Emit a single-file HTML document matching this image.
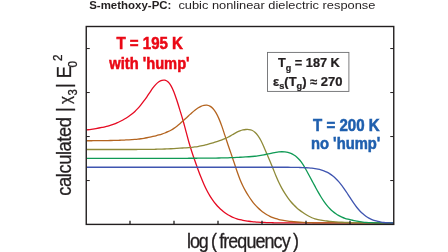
<!DOCTYPE html>
<html><head><meta charset="utf-8"><title>S-methoxy-PC: cubic nonlinear dielectric response</title>
<style>html,body{margin:0;padding:0;background:#fff;overflow:hidden}svg{display:block}</style></head>
<body>
<svg width="448" height="252" viewBox="0 0 448 252">
<rect width="448" height="252" fill="#fff"/>
<g fill="none" stroke-width="1.3" stroke-linecap="butt" stroke-linejoin="round">
<path stroke="#e60a22" d="M86.90,129.86 C87.40,129.80 88.90,129.66 89.90,129.53 C90.90,129.40 91.90,129.24 92.90,129.08 C93.90,128.91 94.90,128.74 95.90,128.56 C96.90,128.38 97.90,128.20 98.90,128.01 C99.90,127.82 100.90,127.63 101.90,127.43 C102.90,127.22 103.90,127.02 104.90,126.79 C105.90,126.56 106.90,126.32 107.90,126.05 C108.90,125.77 109.90,125.48 110.90,125.16 C111.90,124.83 112.90,124.48 113.90,124.10 C114.90,123.71 115.90,123.30 116.90,122.87 C117.90,122.43 118.90,121.97 119.90,121.49 C120.90,121.01 121.90,120.50 122.90,119.96 C123.90,119.42 124.90,118.86 125.90,118.25 C126.90,117.64 127.90,117.00 128.90,116.31 C129.90,115.62 130.90,114.90 131.90,114.09 C132.90,113.29 133.90,112.45 134.90,111.50 C135.90,110.55 136.90,109.52 137.90,108.41 C138.90,107.30 139.90,106.09 140.90,104.84 C141.90,103.60 142.90,102.29 143.90,100.94 C144.90,99.60 145.90,98.21 146.90,96.77 C147.90,95.33 148.90,93.78 149.90,92.31 C150.90,90.85 151.90,89.31 152.90,87.98 C153.90,86.65 154.90,85.38 155.90,84.34 C156.90,83.30 157.90,82.41 158.90,81.74 C159.90,81.07 160.90,80.57 161.90,80.32 C162.90,80.07 163.90,79.98 164.90,80.23 C165.90,80.47 166.90,80.92 167.90,81.81 C168.90,82.69 169.90,83.87 170.90,85.56 C171.90,87.24 172.90,89.42 173.90,91.92 C174.90,94.41 175.90,97.51 176.90,100.53 C177.90,103.56 178.90,106.83 179.90,110.08 C180.90,113.33 181.90,116.52 182.90,120.03 C183.90,123.53 184.90,127.42 185.90,131.12 C186.90,134.83 187.90,138.78 188.90,142.26 C189.90,145.73 190.90,148.88 191.90,151.97 C192.90,155.07 193.90,157.95 194.90,160.83 C195.90,163.71 196.90,166.54 197.90,169.26 C198.90,171.97 199.90,174.61 200.90,177.10 C201.90,179.60 202.90,182.00 203.90,184.23 C204.90,186.46 205.90,188.56 206.90,190.50 C207.90,192.43 208.90,194.18 209.90,195.82 C210.90,197.46 211.90,198.94 212.90,200.34 C213.90,201.74 214.90,203.01 215.90,204.21 C216.90,205.41 217.90,206.51 218.90,207.53 C219.90,208.55 220.90,209.48 221.90,210.35 C222.90,211.22 223.90,212.00 224.90,212.74 C225.90,213.48 226.90,214.16 227.90,214.78 C228.90,215.40 229.90,215.95 230.90,216.45 C231.90,216.94 232.90,217.36 233.90,217.75 C234.90,218.15 235.90,218.48 236.90,218.80 C237.90,219.12 238.90,219.40 239.90,219.66 C240.90,219.91 241.90,220.14 242.90,220.34 C243.90,220.53 244.90,220.70 245.90,220.85 C246.90,221.01 247.90,221.14 248.90,221.26 C249.90,221.39 250.90,221.51 251.90,221.61 C252.90,221.72 253.90,221.82 254.90,221.91 C255.90,222.00 256.90,222.08 257.90,222.15 C258.90,222.22 259.90,222.28 260.90,222.33 C261.90,222.39 262.90,222.43 263.90,222.47 C264.90,222.51 265.90,222.55 266.90,222.58 C267.90,222.61 268.90,222.64 269.90,222.67 C270.90,222.70 271.90,222.72 272.90,222.75 C273.90,222.77 274.90,222.79 275.90,222.81 C276.90,222.82 277.90,222.84 278.90,222.85 C279.90,222.86 280.90,222.87 281.90,222.87 C282.90,222.88 283.90,222.89 284.90,222.90 C285.90,222.90 286.90,222.91 287.90,222.91 C288.90,222.92 289.90,222.92 290.90,222.93 C291.90,222.93 292.90,222.94 293.90,222.94 C294.90,222.94 295.90,222.94 296.90,222.95 C297.90,222.95 298.90,222.95 299.90,222.95 C300.90,222.95 301.90,222.95 302.90,222.95 C303.90,222.95 304.90,222.95 305.90,222.95 C306.90,222.95 307.90,222.95 308.90,222.95 C309.90,222.95 310.90,222.95 311.90,222.95 C312.90,222.95 313.90,222.95 314.90,222.95 C315.90,222.95 316.90,222.95 317.90,222.95 C318.90,222.95 319.90,222.95 320.90,222.95 C321.90,222.95 322.90,222.95 323.90,222.95 C324.90,222.95 325.90,222.95 326.90,222.95 C327.90,222.95 328.90,222.95 329.90,222.95 C330.90,222.95 331.90,222.95 332.90,222.95 C333.90,222.95 334.90,222.95 335.90,222.95 C336.90,222.95 337.90,222.95 338.90,222.95 C339.90,222.95 340.90,222.95 341.90,222.95 C342.90,222.95 343.90,222.95 344.90,222.95 C345.90,222.95 346.90,222.95 347.90,222.95 C348.90,222.95 349.90,222.95 350.90,222.95 C351.90,222.95 352.90,222.95 353.90,222.95 C354.90,222.95 355.90,222.95 356.90,222.95 C357.90,222.95 358.90,222.95 359.90,222.95 C360.90,222.95 361.90,222.95 362.90,222.95 C363.90,222.95 364.90,222.95 365.90,222.95 C366.90,222.95 367.90,222.95 368.90,222.95 C369.90,222.95 370.90,222.95 371.90,222.95 C372.90,222.95 373.90,222.95 374.90,222.95 C375.90,222.95 376.90,222.95 377.90,222.95 C378.90,222.95 379.90,222.95 380.90,222.95 C381.90,222.95 382.90,222.95 383.90,222.95 C384.90,222.95 385.90,222.95 386.90,222.95 C387.90,222.95 388.90,222.95 389.90,222.95 C390.90,222.95 392.26,222.95 392.90,222.95 C393.54,222.95 393.61,222.95 393.75,222.95"/>
<path stroke="#b4641f" d="M86.90,140.75 C87.40,140.75 88.90,140.74 89.90,140.74 C90.90,140.74 91.90,140.73 92.90,140.72 C93.90,140.72 94.90,140.71 95.90,140.70 C96.90,140.69 97.90,140.68 98.90,140.67 C99.90,140.65 100.90,140.64 101.90,140.63 C102.90,140.61 103.90,140.60 104.90,140.58 C105.90,140.57 106.90,140.55 107.90,140.53 C108.90,140.52 109.90,140.50 110.90,140.48 C111.90,140.46 112.90,140.44 113.90,140.41 C114.90,140.39 115.90,140.36 116.90,140.33 C117.90,140.30 118.90,140.26 119.90,140.23 C120.90,140.19 121.90,140.15 122.90,140.11 C123.90,140.06 124.90,140.02 125.90,139.97 C126.90,139.92 127.90,139.86 128.90,139.81 C129.90,139.75 130.90,139.69 131.90,139.63 C132.90,139.56 133.90,139.49 134.90,139.41 C135.90,139.32 136.90,139.23 137.90,139.12 C138.90,139.01 139.90,138.88 140.90,138.74 C141.90,138.61 142.90,138.45 143.90,138.29 C144.90,138.12 145.90,137.94 146.90,137.75 C147.90,137.56 148.90,137.36 149.90,137.15 C150.90,136.94 151.90,136.71 152.90,136.48 C153.90,136.25 154.90,136.02 155.90,135.77 C156.90,135.52 157.90,135.27 158.90,134.98 C159.90,134.70 160.90,134.41 161.90,134.08 C162.90,133.75 163.90,133.39 164.90,133.00 C165.90,132.60 166.90,132.18 167.90,131.71 C168.90,131.25 169.90,130.76 170.90,130.21 C171.90,129.65 172.90,129.05 173.90,128.37 C174.90,127.70 175.90,126.94 176.90,126.16 C177.90,125.39 178.90,124.54 179.90,123.70 C180.90,122.85 181.90,121.98 182.90,121.09 C183.90,120.19 184.90,119.26 185.90,118.32 C186.90,117.38 187.90,116.39 188.90,115.44 C189.90,114.50 190.90,113.54 191.90,112.66 C192.90,111.79 193.90,110.95 194.90,110.18 C195.90,109.41 196.90,108.67 197.90,108.04 C198.90,107.40 199.90,106.81 200.90,106.37 C201.90,105.92 202.90,105.57 203.90,105.37 C204.90,105.18 205.90,105.06 206.90,105.19 C207.90,105.32 208.90,105.59 209.90,106.15 C210.90,106.70 211.90,107.45 212.90,108.54 C213.90,109.62 214.90,110.98 215.90,112.66 C216.90,114.34 217.90,116.33 218.90,118.62 C219.90,120.90 220.90,123.56 221.90,126.35 C222.90,129.15 223.90,132.36 224.90,135.39 C225.90,138.41 226.90,141.52 227.90,144.48 C228.90,147.44 229.90,150.22 230.90,153.15 C231.90,156.07 232.90,159.05 233.90,162.02 C234.90,165.00 235.90,168.15 236.90,171.00 C237.90,173.86 238.90,176.66 239.90,179.15 C240.90,181.64 241.90,183.86 242.90,185.93 C243.90,188.01 244.90,189.84 245.90,191.60 C246.90,193.37 247.90,194.98 248.90,196.52 C249.90,198.06 250.90,199.50 251.90,200.85 C252.90,202.19 253.90,203.43 254.90,204.59 C255.90,205.74 256.90,206.78 257.90,207.77 C258.90,208.75 259.90,209.65 260.90,210.49 C261.90,211.33 262.90,212.10 263.90,212.81 C264.90,213.52 265.90,214.15 266.90,214.74 C267.90,215.33 268.90,215.87 269.90,216.36 C270.90,216.85 271.90,217.30 272.90,217.70 C273.90,218.09 274.90,218.43 275.90,218.74 C276.90,219.04 277.90,219.28 278.90,219.52 C279.90,219.75 280.90,219.94 281.90,220.13 C282.90,220.32 283.90,220.49 284.90,220.64 C285.90,220.80 286.90,220.94 287.90,221.07 C288.90,221.20 289.90,221.32 290.90,221.43 C291.90,221.54 292.90,221.65 293.90,221.75 C294.90,221.84 295.90,221.93 296.90,222.02 C297.90,222.10 298.90,222.17 299.90,222.24 C300.90,222.30 301.90,222.36 302.90,222.40 C303.90,222.45 304.90,222.49 305.90,222.53 C306.90,222.57 307.90,222.60 308.90,222.63 C309.90,222.66 310.90,222.69 311.90,222.72 C312.90,222.74 313.90,222.77 314.90,222.78 C315.90,222.80 316.90,222.82 317.90,222.83 C318.90,222.85 319.90,222.86 320.90,222.87 C321.90,222.88 322.90,222.88 323.90,222.89 C324.90,222.90 325.90,222.90 326.90,222.91 C327.90,222.91 328.90,222.92 329.90,222.92 C330.90,222.93 331.90,222.93 332.90,222.94 C333.90,222.94 334.90,222.94 335.90,222.94 C336.90,222.95 337.90,222.95 338.90,222.95 C339.90,222.95 340.90,222.95 341.90,222.95 C342.90,222.95 343.90,222.95 344.90,222.95 C345.90,222.95 346.90,222.95 347.90,222.95 C348.90,222.95 349.90,222.95 350.90,222.95 C351.90,222.95 352.90,222.95 353.90,222.95 C354.90,222.95 355.90,222.95 356.90,222.95 C357.90,222.95 358.90,222.95 359.90,222.95 C360.90,222.95 361.90,222.95 362.90,222.95 C363.90,222.95 364.90,222.95 365.90,222.95 C366.90,222.95 367.90,222.95 368.90,222.95 C369.90,222.95 370.90,222.95 371.90,222.95 C372.90,222.95 373.90,222.95 374.90,222.95 C375.90,222.95 376.90,222.95 377.90,222.95 C378.90,222.95 379.90,222.95 380.90,222.95 C381.90,222.95 382.90,222.95 383.90,222.95 C384.90,222.95 385.90,222.95 386.90,222.95 C387.90,222.95 388.90,222.95 389.90,222.95 C390.90,222.95 392.26,222.95 392.90,222.95 C393.54,222.95 393.61,222.95 393.75,222.95"/>
<path stroke="#8e8a38" d="M86.90,149.50 C87.40,149.50 88.90,149.50 89.90,149.50 C90.90,149.50 91.90,149.50 92.90,149.50 C93.90,149.50 94.90,149.50 95.90,149.50 C96.90,149.50 97.90,149.50 98.90,149.50 C99.90,149.50 100.90,149.50 101.90,149.50 C102.90,149.50 103.90,149.50 104.90,149.50 C105.90,149.50 106.90,149.50 107.90,149.50 C108.90,149.50 109.90,149.50 110.90,149.50 C111.90,149.50 112.90,149.50 113.90,149.50 C114.90,149.50 115.90,149.50 116.90,149.50 C117.90,149.50 118.90,149.50 119.90,149.50 C120.90,149.50 121.90,149.50 122.90,149.50 C123.90,149.50 124.90,149.50 125.90,149.50 C126.90,149.50 127.90,149.50 128.90,149.50 C129.90,149.50 130.90,149.50 131.90,149.50 C132.90,149.49 133.90,149.49 134.90,149.49 C135.90,149.48 136.90,149.48 137.90,149.47 C138.90,149.46 139.90,149.46 140.90,149.45 C141.90,149.44 142.90,149.43 143.90,149.42 C144.90,149.41 145.90,149.40 146.90,149.38 C147.90,149.37 148.90,149.36 149.90,149.34 C150.90,149.33 151.90,149.32 152.90,149.30 C153.90,149.28 154.90,149.27 155.90,149.25 C156.90,149.23 157.90,149.22 158.90,149.20 C159.90,149.17 160.90,149.15 161.90,149.12 C162.90,149.09 163.90,149.06 164.90,149.02 C165.90,148.98 166.90,148.93 167.90,148.89 C168.90,148.84 169.90,148.79 170.90,148.73 C171.90,148.68 172.90,148.62 173.90,148.56 C174.90,148.51 175.90,148.45 176.90,148.39 C177.90,148.33 178.90,148.27 179.90,148.20 C180.90,148.14 181.90,148.08 182.90,148.02 C183.90,147.95 184.90,147.89 185.90,147.81 C186.90,147.74 187.90,147.67 188.90,147.58 C189.90,147.50 190.90,147.41 191.90,147.31 C192.90,147.21 193.90,147.10 194.90,146.97 C195.90,146.85 196.90,146.70 197.90,146.54 C198.90,146.37 199.90,146.18 200.90,145.97 C201.90,145.76 202.90,145.53 203.90,145.29 C204.90,145.05 205.90,144.80 206.90,144.53 C207.90,144.27 208.90,144.00 209.90,143.72 C210.90,143.44 211.90,143.16 212.90,142.87 C213.90,142.57 214.90,142.28 215.90,141.96 C216.90,141.64 217.90,141.32 218.90,140.97 C219.90,140.62 220.90,140.26 221.90,139.88 C222.90,139.50 223.90,139.11 224.90,138.68 C225.90,138.24 226.90,137.79 227.90,137.28 C228.90,136.77 229.90,136.20 230.90,135.62 C231.90,135.04 232.90,134.39 233.90,133.82 C234.90,133.25 235.90,132.68 236.90,132.19 C237.90,131.70 238.90,131.24 239.90,130.87 C240.90,130.49 241.90,130.15 242.90,129.93 C243.90,129.70 244.90,129.57 245.90,129.51 C246.90,129.44 247.90,129.42 248.90,129.55 C249.90,129.68 250.90,129.83 251.90,130.28 C252.90,130.73 253.90,131.34 254.90,132.22 C255.90,133.11 256.90,134.20 257.90,135.58 C258.90,136.96 259.90,138.63 260.90,140.52 C261.90,142.42 262.90,144.69 263.90,146.92 C264.90,149.16 265.90,151.59 266.90,153.93 C267.90,156.27 268.90,158.58 269.90,160.96 C270.90,163.35 271.90,165.80 272.90,168.26 C273.90,170.72 274.90,173.35 275.90,175.74 C276.90,178.12 277.90,180.46 278.90,182.56 C279.90,184.67 280.90,186.57 281.90,188.38 C282.90,190.18 283.90,191.83 284.90,193.41 C285.90,194.99 286.90,196.46 287.90,197.85 C288.90,199.23 289.90,200.53 290.90,201.73 C291.90,202.93 292.90,204.02 293.90,205.05 C294.90,206.08 295.90,207.01 296.90,207.90 C297.90,208.79 298.90,209.60 299.90,210.38 C300.90,211.15 301.90,211.86 302.90,212.56 C303.90,213.25 304.90,213.90 305.90,214.53 C306.90,215.15 307.90,215.76 308.90,216.30 C309.90,216.84 310.90,217.34 311.90,217.77 C312.90,218.19 313.90,218.54 314.90,218.85 C315.90,219.16 316.90,219.39 317.90,219.62 C318.90,219.84 319.90,220.02 320.90,220.19 C321.90,220.36 322.90,220.51 323.90,220.65 C324.90,220.79 325.90,220.91 326.90,221.02 C327.90,221.14 328.90,221.24 329.90,221.34 C330.90,221.44 331.90,221.54 332.90,221.63 C333.90,221.72 334.90,221.80 335.90,221.88 C336.90,221.96 337.90,222.03 338.90,222.10 C339.90,222.16 340.90,222.22 341.90,222.27 C342.90,222.32 343.90,222.37 344.90,222.41 C345.90,222.45 346.90,222.48 347.90,222.51 C348.90,222.54 349.90,222.57 350.90,222.59 C351.90,222.62 352.90,222.64 353.90,222.66 C354.90,222.68 355.90,222.70 356.90,222.72 C357.90,222.74 358.90,222.76 359.90,222.77 C360.90,222.79 361.90,222.80 362.90,222.82 C363.90,222.84 364.90,222.85 365.90,222.87 C366.90,222.88 367.90,222.89 368.90,222.91 C369.90,222.92 370.90,222.93 371.90,222.93 C372.90,222.94 373.90,222.94 374.90,222.95 C375.90,222.95 376.90,222.95 377.90,222.95 C378.90,222.95 379.90,222.95 380.90,222.95 C381.90,222.95 382.90,222.95 383.90,222.95 C384.90,222.95 385.90,222.95 386.90,222.95 C387.90,222.95 388.90,222.95 389.90,222.95 C390.90,222.95 392.26,222.95 392.90,222.95 C393.54,222.95 393.61,222.95 393.75,222.95"/>
<path stroke="#0f9a55" d="M86.90,158.40 C87.40,158.40 88.90,158.40 89.90,158.40 C90.90,158.40 91.90,158.40 92.90,158.40 C93.90,158.40 94.90,158.40 95.90,158.40 C96.90,158.40 97.90,158.40 98.90,158.40 C99.90,158.40 100.90,158.40 101.90,158.40 C102.90,158.40 103.90,158.40 104.90,158.40 C105.90,158.40 106.90,158.40 107.90,158.39 C108.90,158.39 109.90,158.39 110.90,158.39 C111.90,158.39 112.90,158.39 113.90,158.39 C114.90,158.39 115.90,158.39 116.90,158.39 C117.90,158.39 118.90,158.39 119.90,158.39 C120.90,158.39 121.90,158.39 122.90,158.38 C123.90,158.38 124.90,158.38 125.90,158.38 C126.90,158.38 127.90,158.38 128.90,158.38 C129.90,158.38 130.90,158.38 131.90,158.38 C132.90,158.37 133.90,158.37 134.90,158.37 C135.90,158.37 136.90,158.37 137.90,158.37 C138.90,158.37 139.90,158.37 140.90,158.37 C141.90,158.36 142.90,158.36 143.90,158.36 C144.90,158.36 145.90,158.36 146.90,158.36 C147.90,158.36 148.90,158.35 149.90,158.35 C150.90,158.35 151.90,158.35 152.90,158.35 C153.90,158.35 154.90,158.35 155.90,158.34 C156.90,158.34 157.90,158.34 158.90,158.34 C159.90,158.34 160.90,158.34 161.90,158.33 C162.90,158.33 163.90,158.33 164.90,158.33 C165.90,158.33 166.90,158.33 167.90,158.32 C168.90,158.32 169.90,158.32 170.90,158.32 C171.90,158.32 172.90,158.31 173.90,158.31 C174.90,158.31 175.90,158.31 176.90,158.31 C177.90,158.30 178.90,158.30 179.90,158.30 C180.90,158.30 181.90,158.30 182.90,158.29 C183.90,158.29 184.90,158.29 185.90,158.28 C186.90,158.28 187.90,158.27 188.90,158.27 C189.90,158.27 190.90,158.26 191.90,158.26 C192.90,158.25 193.90,158.25 194.90,158.24 C195.90,158.23 196.90,158.23 197.90,158.22 C198.90,158.21 199.90,158.21 200.90,158.20 C201.90,158.19 202.90,158.18 203.90,158.17 C204.90,158.17 205.90,158.16 206.90,158.15 C207.90,158.14 208.90,158.13 209.90,158.12 C210.90,158.11 211.90,158.10 212.90,158.09 C213.90,158.07 214.90,158.06 215.90,158.05 C216.90,158.04 217.90,158.03 218.90,158.01 C219.90,158.00 220.90,157.98 221.90,157.96 C222.90,157.94 223.90,157.92 224.90,157.89 C225.90,157.87 226.90,157.84 227.90,157.80 C228.90,157.77 229.90,157.73 230.90,157.69 C231.90,157.65 232.90,157.61 233.90,157.57 C234.90,157.52 235.90,157.47 236.90,157.42 C237.90,157.38 238.90,157.32 239.90,157.27 C240.90,157.22 241.90,157.17 242.90,157.11 C243.90,157.06 244.90,157.00 245.90,156.94 C246.90,156.88 247.90,156.82 248.90,156.75 C249.90,156.68 250.90,156.61 251.90,156.52 C252.90,156.44 253.90,156.36 254.90,156.25 C255.90,156.15 256.90,156.04 257.90,155.90 C258.90,155.76 259.90,155.60 260.90,155.43 C261.90,155.25 262.90,155.04 263.90,154.83 C264.90,154.62 265.90,154.39 266.90,154.18 C267.90,153.96 268.90,153.74 269.90,153.52 C270.90,153.31 271.90,153.09 272.90,152.89 C273.90,152.69 274.90,152.49 275.90,152.33 C276.90,152.16 277.90,152.01 278.90,151.91 C279.90,151.82 280.90,151.74 281.90,151.74 C282.90,151.74 283.90,151.79 284.90,151.91 C285.90,152.03 286.90,152.19 287.90,152.45 C288.90,152.71 289.90,153.03 290.90,153.45 C291.90,153.88 292.90,154.38 293.90,155.00 C294.90,155.62 295.90,156.30 296.90,157.18 C297.90,158.05 298.90,159.05 299.90,160.25 C300.90,161.46 301.90,162.86 302.90,164.40 C303.90,165.93 304.90,167.70 305.90,169.47 C306.90,171.24 307.90,173.16 308.90,175.01 C309.90,176.87 310.90,178.74 311.90,180.60 C312.90,182.46 313.90,184.33 314.90,186.17 C315.90,188.00 316.90,189.86 317.90,191.62 C318.90,193.38 319.90,195.10 320.90,196.72 C321.90,198.33 322.90,199.87 323.90,201.30 C324.90,202.74 325.90,204.07 326.90,205.30 C327.90,206.53 328.90,207.65 329.90,208.68 C330.90,209.72 331.90,210.65 332.90,211.49 C333.90,212.33 334.90,213.07 335.90,213.75 C336.90,214.43 337.90,215.02 338.90,215.57 C339.90,216.12 340.90,216.61 341.90,217.06 C342.90,217.51 343.90,217.91 344.90,218.27 C345.90,218.62 346.90,218.92 347.90,219.21 C348.90,219.50 349.90,219.74 350.90,219.98 C351.90,220.22 352.90,220.45 353.90,220.65 C354.90,220.86 355.90,221.06 356.90,221.23 C357.90,221.41 358.90,221.57 359.90,221.71 C360.90,221.85 361.90,221.98 362.90,222.09 C363.90,222.21 364.90,222.30 365.90,222.38 C366.90,222.46 367.90,222.53 368.90,222.58 C369.90,222.64 370.90,222.69 371.90,222.72 C372.90,222.76 373.90,222.79 374.90,222.81 C375.90,222.84 376.90,222.86 377.90,222.88 C378.90,222.89 379.90,222.91 380.90,222.92 C381.90,222.93 382.90,222.94 383.90,222.94 C384.90,222.95 385.90,222.95 386.90,222.95 C387.90,222.95 388.90,222.95 389.90,222.95 C390.90,222.95 392.26,222.95 392.90,222.95 C393.54,222.95 393.61,222.95 393.75,222.95"/>
<path stroke="#3f55b0" d="M86.90,167.25 C87.40,167.25 88.90,167.25 89.90,167.25 C90.90,167.25 91.90,167.25 92.90,167.25 C93.90,167.25 94.90,167.25 95.90,167.25 C96.90,167.25 97.90,167.25 98.90,167.25 C99.90,167.25 100.90,167.25 101.90,167.25 C102.90,167.25 103.90,167.25 104.90,167.25 C105.90,167.25 106.90,167.25 107.90,167.25 C108.90,167.25 109.90,167.25 110.90,167.25 C111.90,167.25 112.90,167.25 113.90,167.25 C114.90,167.25 115.90,167.25 116.90,167.25 C117.90,167.25 118.90,167.25 119.90,167.25 C120.90,167.25 121.90,167.25 122.90,167.25 C123.90,167.25 124.90,167.25 125.90,167.25 C126.90,167.25 127.90,167.25 128.90,167.25 C129.90,167.25 130.90,167.25 131.90,167.25 C132.90,167.25 133.90,167.25 134.90,167.25 C135.90,167.25 136.90,167.25 137.90,167.25 C138.90,167.25 139.90,167.25 140.90,167.25 C141.90,167.25 142.90,167.25 143.90,167.25 C144.90,167.25 145.90,167.25 146.90,167.25 C147.90,167.25 148.90,167.25 149.90,167.25 C150.90,167.25 151.90,167.25 152.90,167.25 C153.90,167.25 154.90,167.25 155.90,167.25 C156.90,167.25 157.90,167.25 158.90,167.25 C159.90,167.25 160.90,167.25 161.90,167.25 C162.90,167.25 163.90,167.25 164.90,167.25 C165.90,167.25 166.90,167.25 167.90,167.25 C168.90,167.25 169.90,167.25 170.90,167.25 C171.90,167.25 172.90,167.25 173.90,167.25 C174.90,167.25 175.90,167.25 176.90,167.25 C177.90,167.25 178.90,167.25 179.90,167.25 C180.90,167.25 181.90,167.25 182.90,167.25 C183.90,167.25 184.90,167.25 185.90,167.25 C186.90,167.25 187.90,167.25 188.90,167.25 C189.90,167.25 190.90,167.25 191.90,167.25 C192.90,167.25 193.90,167.25 194.90,167.25 C195.90,167.25 196.90,167.25 197.90,167.25 C198.90,167.25 199.90,167.25 200.90,167.25 C201.90,167.25 202.90,167.25 203.90,167.25 C204.90,167.25 205.90,167.25 206.90,167.25 C207.90,167.25 208.90,167.25 209.90,167.25 C210.90,167.25 211.90,167.25 212.90,167.25 C213.90,167.25 214.90,167.25 215.90,167.25 C216.90,167.25 217.90,167.25 218.90,167.25 C219.90,167.25 220.90,167.25 221.90,167.25 C222.90,167.25 223.90,167.25 224.90,167.25 C225.90,167.25 226.90,167.25 227.90,167.25 C228.90,167.25 229.90,167.25 230.90,167.25 C231.90,167.25 232.90,167.25 233.90,167.25 C234.90,167.25 235.90,167.25 236.90,167.25 C237.90,167.25 238.90,167.25 239.90,167.25 C240.90,167.25 241.90,167.25 242.90,167.25 C243.90,167.25 244.90,167.25 245.90,167.25 C246.90,167.25 247.90,167.25 248.90,167.25 C249.90,167.25 250.90,167.25 251.90,167.25 C252.90,167.25 253.90,167.25 254.90,167.25 C255.90,167.25 256.90,167.25 257.90,167.25 C258.90,167.25 259.90,167.25 260.90,167.25 C261.90,167.25 262.90,167.25 263.90,167.25 C264.90,167.25 265.90,167.25 266.90,167.25 C267.90,167.25 268.90,167.25 269.90,167.25 C270.90,167.25 271.90,167.25 272.90,167.25 C273.90,167.25 274.90,167.25 275.90,167.25 C276.90,167.25 277.90,167.25 278.90,167.25 C279.90,167.25 280.90,167.25 281.90,167.25 C282.90,167.25 283.90,167.25 284.90,167.25 C285.90,167.26 286.90,167.26 287.90,167.27 C288.90,167.28 289.90,167.29 290.90,167.31 C291.90,167.32 292.90,167.34 293.90,167.36 C294.90,167.38 295.90,167.40 296.90,167.43 C297.90,167.45 298.90,167.48 299.90,167.50 C300.90,167.53 301.90,167.56 302.90,167.60 C303.90,167.64 304.90,167.68 305.90,167.73 C306.90,167.78 307.90,167.83 308.90,167.91 C309.90,167.99 310.90,168.07 311.90,168.19 C312.90,168.31 313.90,168.45 314.90,168.62 C315.90,168.79 316.90,168.98 317.90,169.20 C318.90,169.42 319.90,169.66 320.90,169.94 C321.90,170.22 322.90,170.53 323.90,170.90 C324.90,171.27 325.90,171.67 326.90,172.17 C327.90,172.67 328.90,173.23 329.90,173.88 C330.90,174.53 331.90,175.27 332.90,176.09 C333.90,176.90 334.90,177.78 335.90,178.76 C336.90,179.73 337.90,180.79 338.90,181.93 C339.90,183.07 340.90,184.31 341.90,185.61 C342.90,186.92 343.90,188.32 344.90,189.77 C345.90,191.21 346.90,192.75 347.90,194.27 C348.90,195.79 349.90,197.36 350.90,198.88 C351.90,200.40 352.90,201.95 353.90,203.39 C354.90,204.82 355.90,206.23 356.90,207.49 C357.90,208.76 358.90,209.91 359.90,210.96 C360.90,212.02 361.90,212.97 362.90,213.84 C363.90,214.72 364.90,215.50 365.90,216.22 C366.90,216.94 367.90,217.59 368.90,218.16 C369.90,218.73 370.90,219.22 371.90,219.64 C372.90,220.06 373.90,220.37 374.90,220.67 C375.90,220.96 376.90,221.19 377.90,221.42 C378.90,221.64 379.90,221.85 380.90,222.03 C381.90,222.20 382.90,222.36 383.90,222.48 C384.90,222.60 385.90,222.69 386.90,222.76 C387.90,222.83 388.90,222.88 389.90,222.92 C390.90,222.96 392.26,222.99 392.90,223.01 C393.54,223.02 393.61,223.02 393.75,223.02"/>
</g>
<g stroke="#231f20" stroke-width="1.4" fill="none">
<rect x="86.25" y="26.50" width="307.50" height="197.90"/>
</g>
<g stroke="#231f20" stroke-width="1.3" fill="none">
<path stroke-width="1" d="M86.25,48.55 h3.5 M393.75,48.55 h-3.5"/>
<path stroke-width="1" d="M86.25,92.55 h3.5 M393.75,92.55 h-3.5"/>
<path stroke-width="1" d="M86.25,136.55 h3.5 M393.75,136.55 h-3.5"/>
<path stroke-width="1" d="M86.25,180.55 h3.5 M393.75,180.55 h-3.5"/>
<path d="M130.00,224.40 v-3.6"/>
<path d="M174.00,224.40 v-3.6"/>
<path d="M218.00,224.40 v-3.6"/>
<path d="M262.00,224.40 v-3.6"/>
<path d="M306.00,224.40 v-3.6"/>
<path d="M350.00,224.40 v-3.6"/>
</g>
<rect x="267.5" y="52.4" width="81.4" height="39" fill="#fff" stroke="#6d6e70" stroke-width="0.9"/>
<g font-family="Liberation Sans, Arial, sans-serif">
<text x="89.2" y="8.95" font-size="10.3" font-weight="bold" fill="#231f20" textLength="82.2" lengthAdjust="spacingAndGlyphs">S-methoxy-PC:</text>
<text x="178.4" y="8.95" font-size="10.6" fill="#231f20" textLength="197" lengthAdjust="spacingAndGlyphs">cubic nonlinear dielectric response</text>
<g fill="#ea0815" stroke="#ea0815" stroke-width="0.55" font-weight="bold" font-size="16.8">
<text x="116.40" y="49.00" textLength="66.60" lengthAdjust="spacingAndGlyphs">T = 195 K</text>
<text x="109.30" y="69.10" textLength="80.30" lengthAdjust="spacingAndGlyphs">with 'hump'</text>
</g>
<g fill="#1f5fae" stroke="#1f5fae" stroke-width="0.55" font-weight="bold" font-size="16.6">
<text x="313.10" y="131.10" textLength="66.50" lengthAdjust="spacingAndGlyphs">T = 200 K</text>
<text x="311.00" y="148.95" textLength="69.30" lengthAdjust="spacingAndGlyphs">no 'hump'</text>
</g>
<g fill="#231f20" stroke="#231f20" stroke-width="0.25" font-weight="bold" font-size="12.2" text-anchor="middle">
<text transform="translate(308.9,67.1) scale(1.045,1)">T<tspan font-size="8.6" dy="3.6">g</tspan><tspan dy="-3.6"> = 187 K</tspan></text>
<text transform="translate(307.8,85.7) scale(1.065,1)">ε<tspan font-size="8.6" dy="3.6">s</tspan><tspan dy="-3.6">(T</tspan><tspan font-size="8.6" dy="3.6">g</tspan><tspan dy="-3.6">) ≈ 270</tspan></text>
</g>
<text transform="scale(0.920,1)" y="247.9" font-size="19.5" fill="#231f20" stroke="#231f20" stroke-width="0.3"><tspan x="203.26" textLength="23.70" lengthAdjust="spacing">log</tspan> <tspan x="229.35" textLength="5.65" lengthAdjust="spacing">(</tspan> <tspan x="238.26" textLength="77.61" lengthAdjust="spacing">frequency</tspan> <tspan x="318.48" textLength="5.65" lengthAdjust="spacing">)</tspan></text>
<text transform="translate(70.7,195.70) rotate(-90) scale(0.940,1)" font-size="19.5" fill="#231f20" stroke="#231f20" stroke-width="0.3"><tspan letter-spacing="-0.45">calculated</tspan> <tspan x="88.94">|</tspan> <tspan x="97.66" font-size="16">χ</tspan><tspan x="106.60" font-size="12" dy="6.6">3</tspan> <tspan x="114.68" dy="-6.6">|</tspan> <tspan x="125.00">E</tspan><tspan x="136.49" font-size="12.5" dy="6.6">0</tspan><tspan x="143.30" font-size="12.5" dy="-15.2">2</tspan></text>
</g>
</svg>
</body></html>
